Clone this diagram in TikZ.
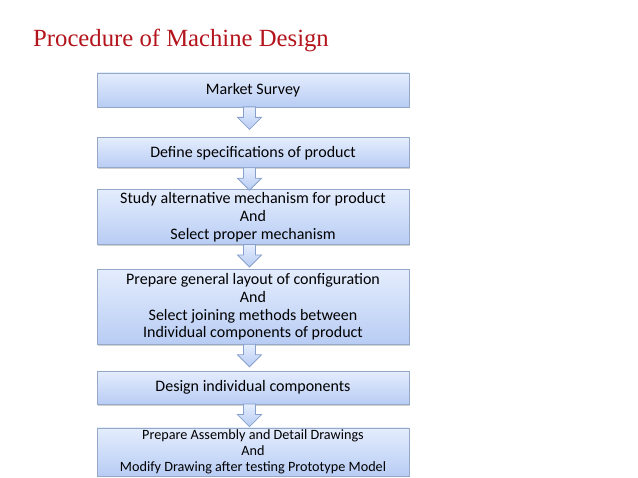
\documentclass[tikz,border=0pt]{standalone}
\usepackage{fontspec}
\setmainfont{Liberation Serif}
\newfontfamily\boxfont{Carlito}
\usepackage{tikz}
\usetikzlibrary{positioning,calc,shadows}
\definecolor{TitleRed}{RGB}{180,20,28}
\definecolor{BoxTop}{RGB}{228,237,253}
\definecolor{BoxBot}{RGB}{184,204,244}
\definecolor{BoxLine}{RGB}{150,168,200}
\definecolor{ArrLine}{RGB}{135,160,205}

\tikzset{
  stepbox/.style={draw=BoxLine, line width=0.8pt, top color=BoxTop, bottom color=BoxBot,
    minimum width=312pt, inner sep=1pt, align=center,
    font=\boxfont\fontsize{16}{17.8}\selectfont,
    drop shadow={shadow xshift=1pt, shadow yshift=-1.5pt, opacity=0.3, fill=black!60}},
  arrowbox/.style={draw=ArrLine, line width=0.8pt, top color=BoxTop, bottom color=BoxBot}
}

% block arrow hanging below a step
\newcommand{\flowarrow}[1]{%
  \draw[arrowbox] ($(#1.south)+(-3.5pt,0.5pt)$) ++(-6pt,0) -- ++(0,-10.5pt) -- ++(-6pt,0)
    -- ++(12pt,-12pt) -- ++(12pt,12pt) -- ++(-6pt,0) -- ++(0,10.5pt) -- cycle;}

\begin{document}
\begin{tikzpicture}
  \useasboundingbox (0,0) rectangle (638pt,-478pt);
  \node[anchor=base west, text=TitleRed, font=\fontsize{24.7}{28}\selectfont, inner sep=0pt] (title) at (33pt,-47pt) {Procedure of Machine Design};

  \node[stepbox, minimum height=34pt] (survey) at (253pt,-90pt) {Market Survey};
  \node[stepbox, minimum height=30pt, below=30pt of survey] (spec) {Define specifications of product};
  \node[stepbox, minimum height=55pt, below=21pt of spec] (mech) {Study alternative mechanism for product\\And\\Select proper mechanism};
  \node[stepbox, minimum height=75pt, below=24pt of mech] (layout) {Prepare general layout of configuration\\And\\Select joining methods between\\Individual components of product};
  \node[stepbox, minimum height=33pt, below=26pt of layout] (comp) {Design individual components};
  \node[stepbox, minimum height=48pt, below=23pt of comp, font=\boxfont\fontsize{14.2}{16}\selectfont] (draw) {Prepare Assembly and Detail Drawings\\And\\Modify Drawing after testing Prototype Model};

  \flowarrow{survey}
  \flowarrow{spec}
  \flowarrow{mech}
  \flowarrow{layout}
  \flowarrow{comp}
\end{tikzpicture}
\end{document}
